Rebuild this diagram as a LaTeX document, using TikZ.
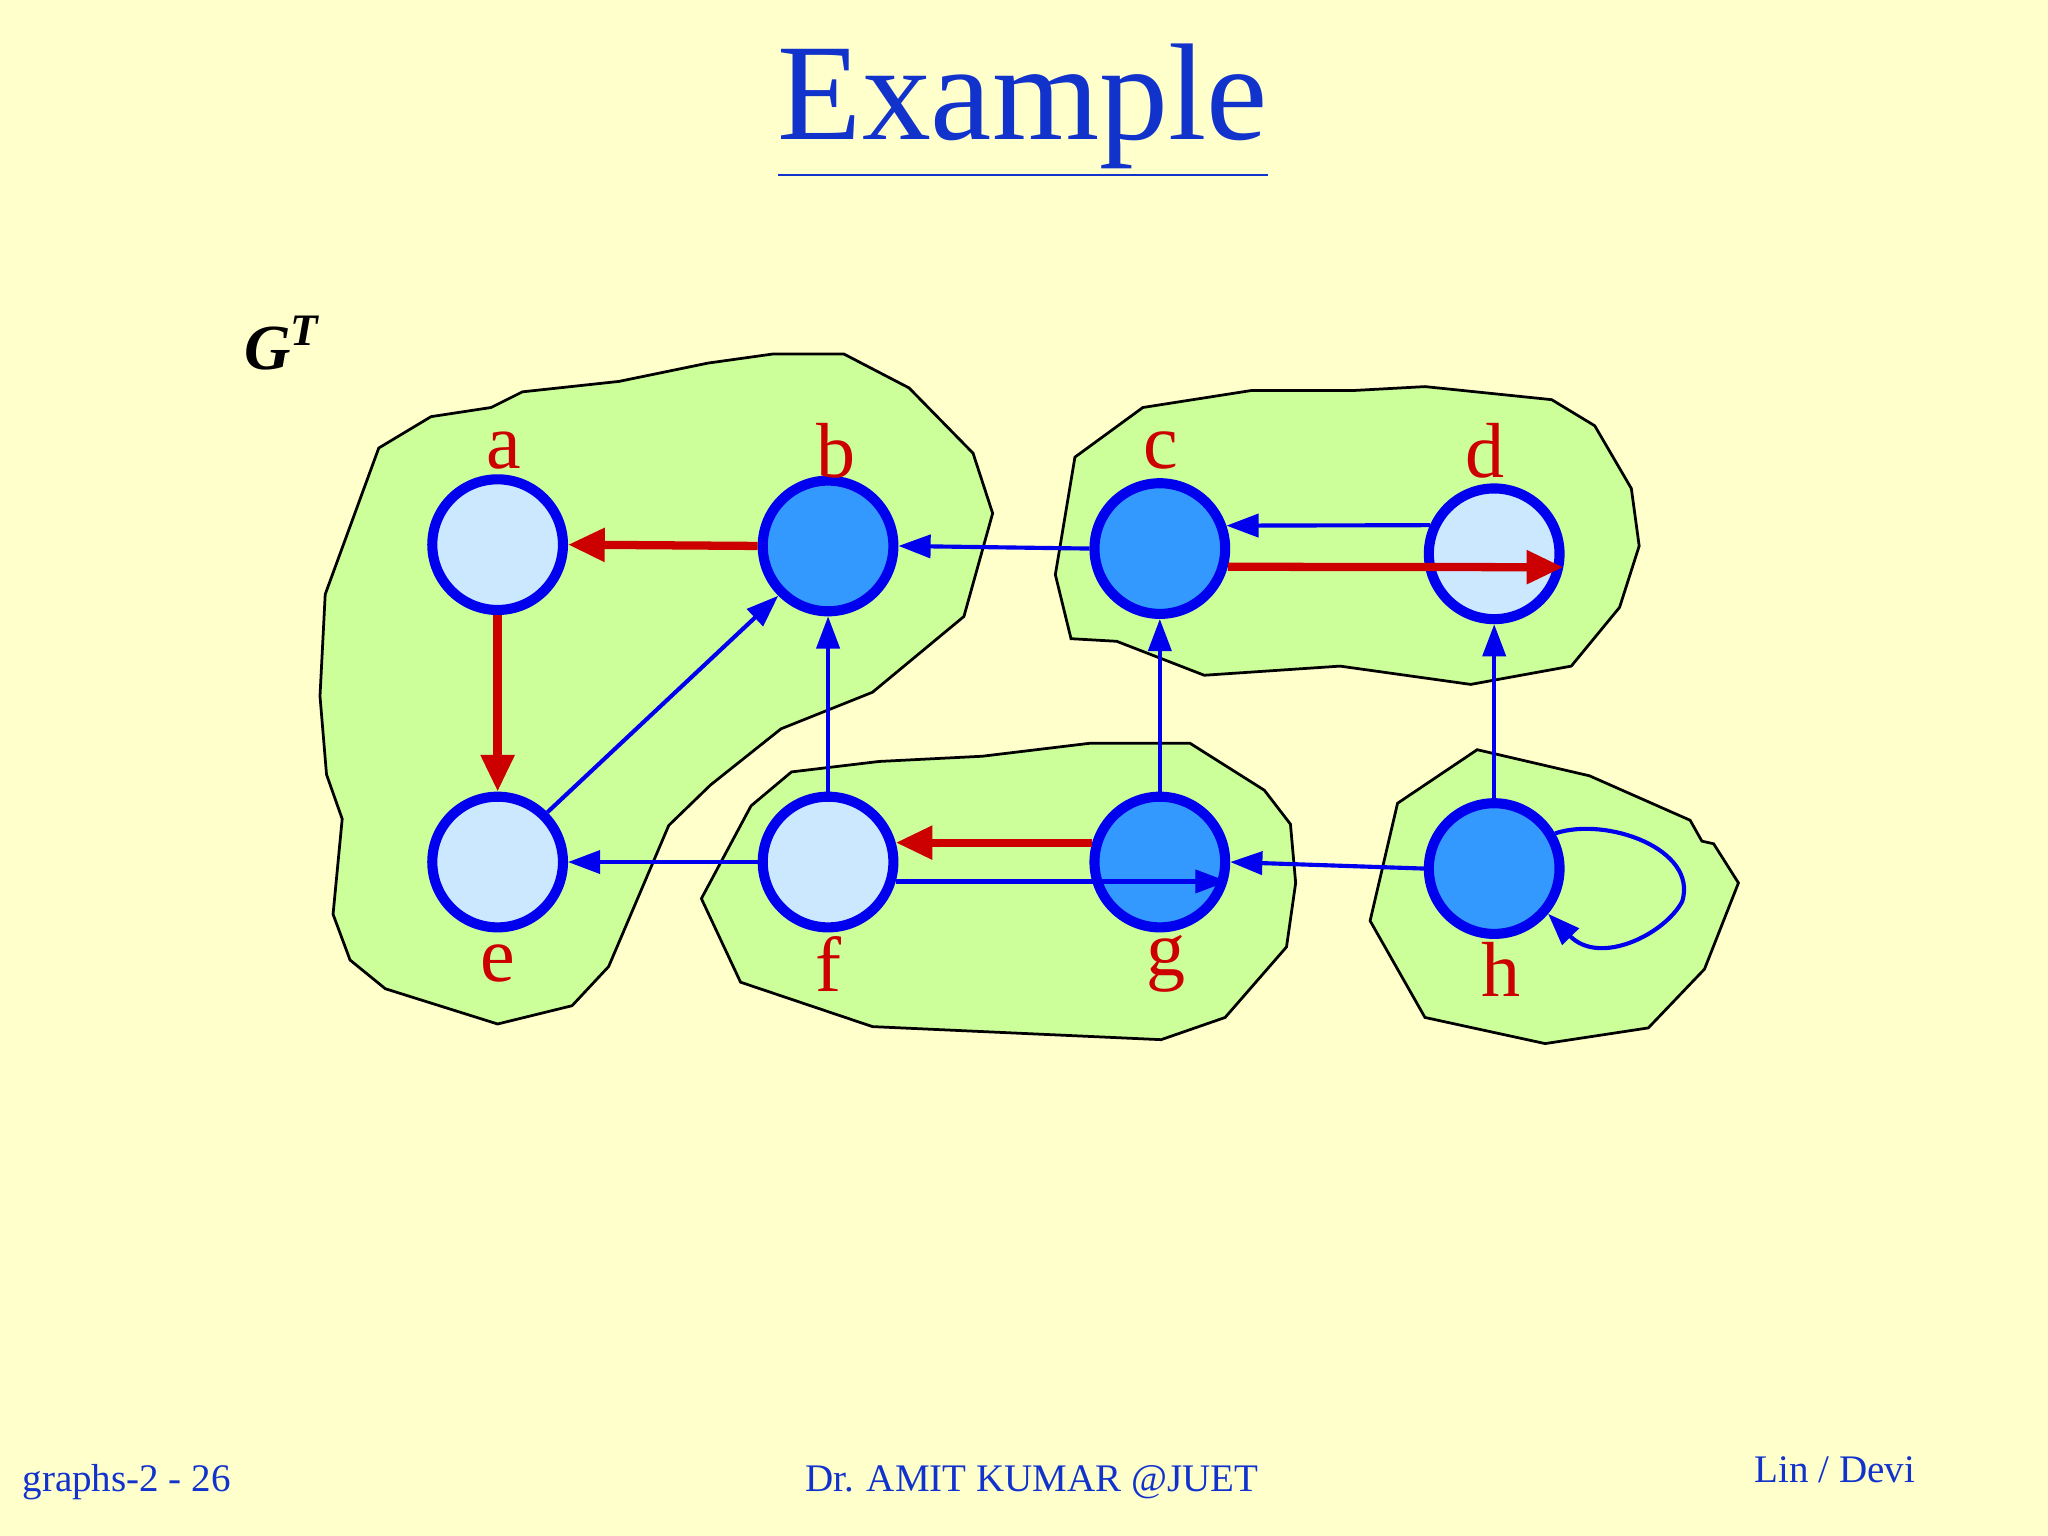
\documentclass[tikz,border=0pt]{standalone}
\usepackage{fontspec}
\setmainfont{Liberation Serif}
\usetikzlibrary{arrows.meta}
\definecolor{bg}{HTML}{FFFFCC}
\definecolor{blob}{HTML}{CCFF99}
\definecolor{lightv}{HTML}{CCE8FF}
\definecolor{darkv}{HTML}{3399FF}
\definecolor{vborder}{HTML}{0000EE}
\definecolor{lab}{HTML}{CC0000}
\definecolor{ttl}{HTML}{1133CC}
\tikzset{
  x=0.01cm,y=-0.01cm,
  vtx/.style={circle,draw=vborder,line width=2.2pt,minimum size=1cm,inner sep=0pt},
  lt/.style={vtx,fill=lightv},
  dk/.style={vtx,fill=darkv},
  vlab/.style={text=lab,font=\fontsize{17}{20}\selectfont},
  blobs/.style={fill=blob,draw=black,line width=0.6pt},
  tree/.style={draw=lab,line width=1.8pt,-{Triangle[length=8pt,width=7pt]}},
  ed/.style={draw=vborder,line width=0.9pt,-{Triangle[length=7pt,width=5pt]}},
  foot/.style={text=ttl,font=\fontsize{8.5}{10}\selectfont}
}
\begin{document}
\begin{tikzpicture}
\fill[bg] (0,0) rectangle (1568,1176);
\useasboundingbox (0,0) rectangle (1568,1176);
\node[text=ttl,font=\fontsize{30}{34}\selectfont] (title) at (783,85) {\underline{Example}};
\node[font=\fontsize{14}{16}\selectfont\bfseries\itshape] (gt) at (216,263) {G\textsuperscript{T}};
\draw[blobs] (290,343)--(330,319)--(376,312)--(400,300)--(474,292)--(542,278)--(592,271)--(646,271)--(696,297)--(745,347)--(760,393)--(738,472)--(668,530)--(598,558)--(544,601)--(512,632)--(466,740)--(438,770)--(381,784)--(295,757)--(268,735)--(255,700)--(262,627)--(250,593)--(245,533)--(249,455)--cycle;
\draw[blobs] (823,350)--(875,312)--(958,299)--(1036,299)--(1091,296)--(1188,306)--(1221,326)--(1249,374)--(1255,418)--(1240,465)--(1203,510)--(1126,524)--(1026,510)--(922,517)--(855,491)--(820,489)--(808,440)--cycle;
\draw[blobs] (606,591)--(673,583)--(752,579)--(835,569)--(911,569)--(968,605)--(988,631)--(992,676)--(985,725)--(938,779)--(889,796)--(668,786)--(567,752)--(537,688)--(575,617)--cycle;
\draw[blobs] (1070,615)--(1131,574)--(1217,594)--(1294,628)--(1303,644)--(1312,646)--(1331,676)--(1305,742)--(1262,787)--(1183,799)--(1091,779)--(1049,705)--cycle;
\node[lt] (a) at (381,417) {};
\node[dk] (b) at (634,418) {};
\node[dk] (c) at (888,420) {};
\node[lt] (d) at (1144,424) {};
\node[lt] (e) at (381,660) {};
\node[lt] (f) at (634,660) {};
\node[dk] (g) at (888,660) {};
\node[dk] (h) at (1144,665) {};
\node[vlab] (la) at (386,345) {a};
\node[vlab] (lb) at (640,345) {b};
\node[vlab] (lc) at (889,345) {c};
\node[vlab] (ld) at (1137,345) {d};
\node[vlab] (le) at (381,738) {e};
\node[vlab] (lf) at (634,738) {f};
\node[vlab] (lg) at (893,738) {g};
\node[vlab] (lh) at (1149,742) {h};
\draw[tree] (b.west) -- (a.east);
\draw[tree] (a.south) -- (e.north);
\draw[tree] (c.-15) -- (d.-11);
\draw[tree] (g.164) -- (f.16);
\draw[ed] (c.west) -- (b.east);
\draw[ed] (d.156) -- (c.19);
\draw[ed] (e.north east) -- (b.south west);
\draw[ed] (f.north) -- (b.south);
\draw[ed] (f.west) -- (e.east);
\draw[ed] (f.-16) -- (g.-16);
\draw[ed] (g.north) -- (c.south);
\draw[ed] (h.west) -- (g.east);
\draw[ed] (h.north) -- (d.south);
\draw[ed] (h.30) .. controls (1230,625) and (1300,650) .. (1288,690) .. controls (1275,715) and (1225,740) .. (h.-40);
\node[foot] (f1) at (97,1135) {graphs-2 - 26};
\node[foot] (f2) at (790,1135) {Dr. AMIT KUMAR @JUET};
\node[foot] (f3) at (1405,1125) {Lin / Devi};
\end{tikzpicture}
\end{document}
